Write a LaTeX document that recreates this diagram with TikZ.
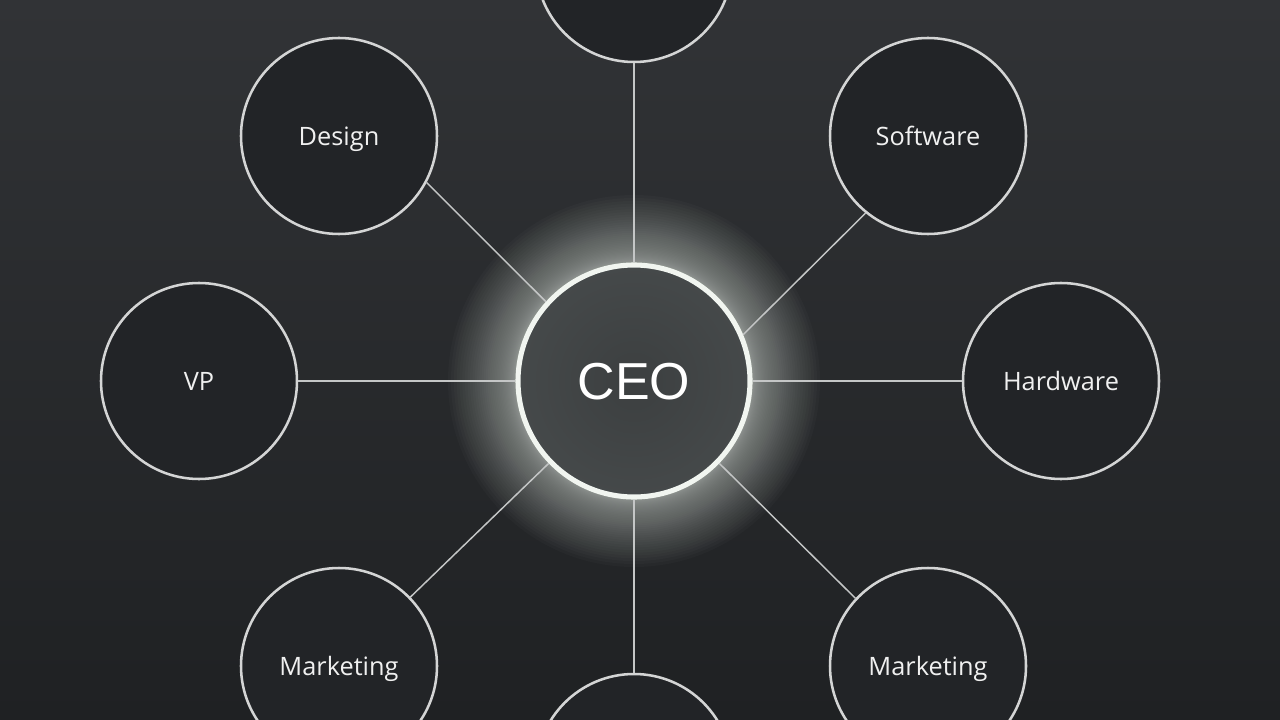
\documentclass[tikz,border=0pt]{standalone}
\usepackage{fontspec}
\newfontfamily\labfont{Open Sans}
\newfontfamily\ceofont{Liberation Sans}
\definecolor{bgtop}{HTML}{313336}
\definecolor{bgbot}{HTML}{1F2123}
\definecolor{ringc}{HTML}{D4D5D5}
\definecolor{linec}{HTML}{C4C6C6}
\definecolor{fillc}{HTML}{222427}
\definecolor{textc}{HTML}{F0F0F0}
\definecolor{ceoring}{HTML}{F1F5F0}
\definecolor{ceoA}{HTML}{3C3F40}
\definecolor{ceoB}{HTML}{474B4C}
\definecolor{ceoC}{HTML}{6A6F6C}
\definecolor{glowc}{HTML}{DCE3DC}
\pgfdeclareradialshading{ceoshade}{\pgfpointorigin}{color(0bp)=(ceoA); color(30bp)=(ceoB); color(50bp)=(ceoC)}
\begin{document}
\begin{tikzpicture}[x=0.75pt,y=-0.75pt,
  outer/.style={circle, minimum size=147pt, inner sep=0pt, draw=ringc, line width=1.9pt, fill=fillc, text=textc, text height=13.6pt, text depth=0pt, font=\labfont\fontsize{19}{22}\selectfont},
  ceonode/.style={circle, minimum size=174pt, inner sep=0pt, draw=ceoring, line width=3.8pt, shading=ceoshade, text=white, text height=27.9pt, text depth=0pt, font=\ceofont\fontsize{39}{44}\selectfont},
  conn/.style={draw=linec, line width=1.1pt}]
\useasboundingbox (0,0) rectangle (1280,720);
\clip (0,0) rectangle (1280,720);
\shade[top color=bgtop, bottom color=bgbot] (0,0) rectangle (1280,720);
\coordinate (c) at (634,381);
\foreach \i in {1,...,45}{
  \fill[glowc, fill opacity=0.025] (c) circle ({118+68*(\i/45)*(\i/45)});
}
\node[outer] (top) at (634,-36) {};
\node[outer] (design) at (339,136) {Design};
\node[outer] (software) at (928,136) {Software};
\node[outer] (vp) at (199,381) {VP};
\node[outer] (hardware) at (1061,381) {Hardware};
\node[outer] (mleft) at (339,666) {Marketing};
\node[outer] (mright) at (928,666) {Marketing};
\node[outer] (bottom) at (634,772) {};
\node[ceonode] (ceo) at (c) {CEO};
\draw[conn] (top.south) -- (ceo.north);
\draw[conn] (bottom.north) -- (ceo.south);
\draw[conn] (vp.east) -- (ceo.west);
\draw[conn] (hardware.west) -- (ceo.east);
\draw[conn] (design.332) -- (ceo.138);
\draw[conn] (software.231) -- (ceo.23);
\draw[conn] (mleft.44) -- (ceo.224);
\draw[conn] (mright.137) -- (ceo.316);
\end{tikzpicture}
\end{document}
